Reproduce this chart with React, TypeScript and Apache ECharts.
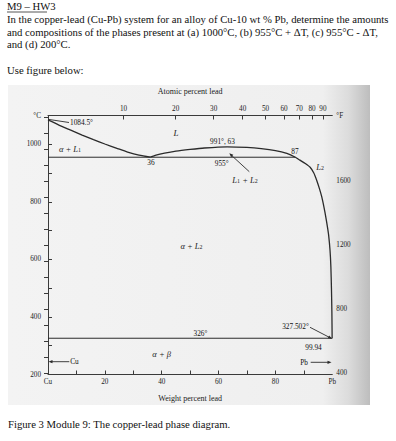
import React, { useEffect, useRef } from "react";
import * as echarts from "echarts";

// ---------- data ----------
const CU_MASS = 63.55;
const PB_MASS = 207.2;
const ATOMIC_LABELS = [10, 20, 30, 40, 50, 60, 70, 80, 90];
const WEIGHT_TICKS = [10, 20, 30, 40, 50, 60, 70, 80, 90];
const WEIGHT_LABELS = [0, 20, 40, 60, 80, 100];
const CELSIUS_LABELS = [200, 400, 600, 800, 1000, 1100];
const FAHRENHEIT_TICKS = [400, 500, 600, 700, 800, 900, 1000, 1100, 1200, 1300, 1400, 1500, 1600, 1700, 1800, 1900, 2000];
const FAHRENHEIT_LABELS = [400, 800, 1200, 1600];

// Cu-rich liquidus (L1) from 1084.5°C to the monotectic at 36 wt%
const cuLiquidus: number[][] = [
  [0, 1084.5], [4, 1066], [8, 1049], [12, 1032], [16, 1016], [20, 1001],
  [24, 987], [28, 973], [32, 962], [36, 955],
];
// miscibility dome (L1 + L2) and Pb-rich liquidus (L2)
const domeAndL2: number[][] = [
  [36, 955], [38, 962], [41, 969], [45, 976], [50, 982], [55, 987], [63, 991],
  [70, 989], [75, 985], [80, 978], [84, 968], [87, 955], [88.6, 945], [90.5, 933],
  [92.2, 920], [93.5, 900], [94.5, 875], [95.5, 845], [96.3, 817], [97.1, 780],
  [97.7, 748], [98.3, 712], [98.7, 685], [99.2, 632], [99.5, 574], [99.7, 500],
  [99.85, 420], [99.94, 326],
];
const monotectic: number[][] = [[0, 955], [87, 955]];
const eutectic: number[][] = [[0, 326], [100, 326]];

const atToWt = (a: number) => (100 * a * PB_MASS) / (a * PB_MASS + (100 - a) * CU_MASS);
const fToC = (f: number) => ((f - 32) * 5) / 9;

const SERIF = "Liberation Serif";
const INK = "#2b2b2b";

function txt(text: string, x: number, y: number, size: number, align = "left") {
  return {
    type: "text",
    x,
    y,
    z: 50,
    style: {
      text,
      fill: "#111",
      font: `${size}px "${SERIF}"`,
      align,
      textAlign: align,
      verticalAlign: "middle",
      textVerticalAlign: "middle",
    },
  };
}

function sub(base: string, x: number, y: number, size = 8.5) {
  return {
    type: "text",
    x,
    y,
    z: 50,
    style: {
      text: base,
      align: "center",
      textAlign: "center",
      verticalAlign: "middle",
      textVerticalAlign: "middle",
      rich: {
        i: { fontFamily: SERIF, fontStyle: "italic", fontSize: size, fill: "#222", color: "#222" },
        s: { fontFamily: SERIF, fontSize: size * 0.7, fill: "#222", color: "#222", padding: [3, 0, 0, 0] },
      },
    },
  };
}

function line(x1: number, y1: number, x2: number, y2: number, w = 0.9) {
  return { type: "line", z: 50, shape: { x1, y1, x2, y2 }, style: { stroke: INK, lineWidth: w } };
}

function head(x: number, y: number, fromX: number, fromY: number, len = 4, half = 1.6) {
  const dx = x - fromX;
  const dy = y - fromY;
  const d = Math.sqrt(dx * dx + dy * dy);
  const ux = dx / d;
  const uy = dy / d;
  const bx = x - ux * len;
  const by = y - uy * len;
  return {
    type: "polygon",
    z: 50,
    shape: { points: [[x, y], [bx - uy * half, by + ux * half], [bx + uy * half, by - ux * half]] },
    style: { fill: INK },
  };
}

export default function App() {
  const ref = useRef<HTMLDivElement>(null);

  useEffect(() => {
    if (!ref.current) return;
    const chart = echarts.init(ref.current, null, { renderer: "svg" });
    const atPos = ATOMIC_LABELS.map(atToWt);
    const axisFont = { fontFamily: SERIF, fontSize: 7.2, color: "#222", fontWeight: "normal" };
    const axisLine = { show: true, lineStyle: { color: "#3a3a3a", width: 1 } };

    chart.setOption({
      animation: false,
      backgroundColor: "#ffffff",
      textStyle: { fontFamily: SERIF },
      grid: { left: 48, top: 115.5, right: 63.7, bottom: 66.5, containLabel: false },
      xAxis: [
        {
          type: "value",
          position: "bottom",
          min: 0,
          max: 100,
          interval: 10,
          name: "Weight percent lead",
          nameLocation: "middle",
          nameGap: 19.5,
          nameTextStyle: { fontFamily: SERIF, fontSize: 8, color: "#222" },
          axisLine,
          splitLine: { show: false },
          axisTick: { show: true, inside: true, length: 4, customValues: WEIGHT_TICKS, lineStyle: { color: "#3a3a3a" } },
          axisLabel: {
            ...axisFont,
            margin: 4,
            customValues: WEIGHT_LABELS,
            formatter: (v: number) => (v === 0 ? "Cu" : v === 100 ? "Pb" : String(v)),
          },
        },
        {
          type: "value",
          position: "top",
          min: 0,
          max: 100,
          interval: 10,
          name: "Atomic percent lead",
          nameLocation: "middle",
          nameGap: 20,
          nameTextStyle: { fontFamily: SERIF, fontSize: 8, color: "#222" },
          axisLine,
          splitLine: { show: false },
          axisTick: { show: true, inside: true, length: 4, customValues: atPos, lineStyle: { color: "#3a3a3a" } },
          axisLabel: {
            ...axisFont,
            margin: 3,
            customValues: atPos,
            formatter: (v: number) => {
              const i = atPos.findIndex((w) => Math.abs(w - v) < 0.01);
              return i >= 0 ? String(ATOMIC_LABELS[i]) : "";
            },
          },
        },
      ],
      yAxis: [
        {
          type: "value",
          position: "left",
          min: 200,
          max: 1100,
          interval: 100,
          axisLine,
          splitLine: { show: false },
          axisTick: { show: true, inside: true, length: 4, lineStyle: { color: "#3a3a3a" } },
          axisLabel: {
            ...axisFont,
            margin: 7,
            customValues: CELSIUS_LABELS,
            formatter: (v: number) => (v === 1100 ? "°C" : String(v)),
          },
        },
        {
          type: "value",
          position: "right",
          min: 200,
          max: 1100,
          interval: 100,
          axisLine,
          splitLine: { show: false },
          axisTick: { show: true, inside: true, length: 4, customValues: FAHRENHEIT_TICKS.map(fToC), lineStyle: { color: "#3a3a3a" } },
          axisLabel: {
            ...axisFont,
            margin: 4,
            customValues: [...FAHRENHEIT_LABELS.map(fToC), 1100],
            formatter: (v: number) => (v === 1100 ? "°F" : String(Math.round((v * 9) / 5 + 32))),
          },
        },
      ],
      series: [
        {
          type: "line", data: cuLiquidus, smooth: 0.25, symbol: "none",
          lineStyle: { color: INK, width: 1.3 }, silent: true,
        },
        {
          type: "line", data: domeAndL2, smooth: 0.2, symbol: "none",
          lineStyle: { color: INK, width: 1.3 }, silent: true,
        },
        { type: "line", data: monotectic, symbol: "none", lineStyle: { color: INK, width: 1 }, silent: true },
        { type: "line", data: eutectic, symbol: "none", lineStyle: { color: INK, width: 1 }, silent: true },
      ],
      graphic: {
        elements: [
          {
            type: "rect",
            z: -100,
            shape: { x: 8, y: 85, width: 362, height: 320 },
            style: {
              fill: new echarts.graphic.LinearGradient(0, 0, 1, 0, [
                { offset: 0, color: "#f3f3f3" },
                { offset: 0.87, color: "#efefef" },
                { offset: 0.94, color: "#dcdcdc" },
                { offset: 1, color: "#bdbdbd" },
              ]),
            },
          },
          // header text
          txt("M9 – HW3", 7, 6, 10.7),
          line(7, 12, 47, 12, 0.8),
          txt("In the copper-lead (Cu-Pb) system for an alloy of Cu-10 wt % Pb, determine the amounts", 7, 19, 10.7),
          txt("and compositions of the phases present at (a) 1000°C, (b) 955°C + ΔT, (c) 955°C - ΔT,", 7, 31.5, 10.7),
          txt("and (d) 200°C.", 7, 43.5, 10.7),
          txt("Use figure below:", 7, 70, 10.7),
          txt("Figure 3 Module 9: The copper-lead phase diagram.", 8, 423.5, 10.7),
          // annotations
          line(48, 119.3, 69, 122.5),
          txt("1084.5°", 70, 122.7, 7.3),
          sub("{i|α + L}{s|1}", 70, 148.5),
          sub("{i|L}", 176, 133.3, 9),
          txt("36", 151, 162.7, 7.3, "center"),
          txt("991°, 63", 222.5, 141.7, 7.3, "center"),
          txt("87", 295, 151.7, 7.3, "center"),
          txt("955°", 221.7, 163.3, 7.3, "center"),
          line(249.3, 171.7, 230, 154),
          head(229.3, 153.3, 249.3, 171.7),
          sub("{i|L}{s|1}{i| + L}{s|2}", 245, 179.5),
          sub("{i|L}{s|2}", 320, 166.7),
          sub("{i|α + L}{s|2}", 191.5, 245.7),
          txt("326°", 200.5, 333.3, 7.3, "center"),
          txt("327.502°", 295.5, 326.7, 7.3, "center"),
          line(310, 327.3, 331, 338.2),
          head(332, 338.7, 310, 327.3),
          txt("99.94", 313.5, 347.3, 7.3, "center"),
          txt("Pb", 304, 362.3, 7.3, "center"),
          line(310.7, 362.3, 328, 362.3),
          head(331.5, 362.3, 310.7, 362.3),
          txt("Cu", 74.5, 361.7, 7.3, "center"),
          line(69.3, 361.7, 51, 361.7),
          head(48.5, 361.7, 69.3, 361.7),
          sub("{i|α + β}", 161.7, 354.3),
        ],
      },
    });
    return () => chart.dispose();
  }, []);

  return (
    <div
      ref={ref}
      style={{ position: "fixed", left: 0, top: 0, width: 396, height: 441 }}
    />
  );
}
